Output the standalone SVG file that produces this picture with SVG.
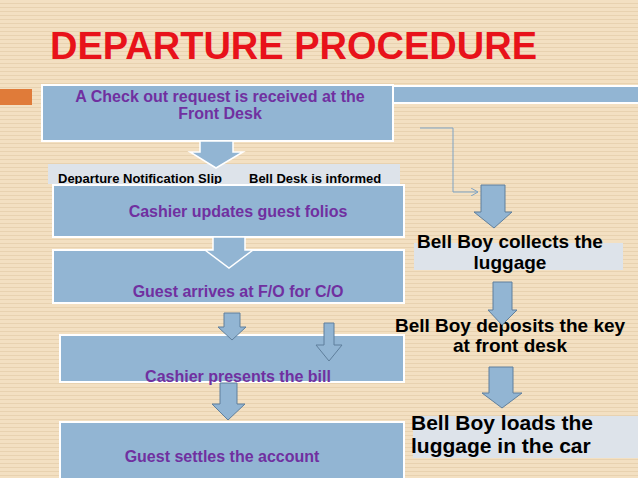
<svg xmlns="http://www.w3.org/2000/svg" width="638" height="478" viewBox="0 0 638 478">
<defs>
<pattern id="st" width="8" height="4" patternUnits="userSpaceOnUse"><rect width="8" height="4" fill="#f3e0c2"/><rect y="3" width="8" height="1" fill="#e8d2b0"/></pattern>
<marker id="ah" markerWidth="8" markerHeight="8" refX="7" refY="4" orient="auto"><path d="M0,0 L7,4 L0,8" fill="none" stroke="#7fa3c4" stroke-width="1"/></marker>
</defs>
<style>
.box{fill:#92b5d3;stroke:#fff;stroke-width:2}
.arr{fill:#92b5d3;stroke:#5f7f9c;stroke-width:1}
.warr{fill:#92b5d3;stroke:#fff;stroke-width:1.5}
.pt{font-family:"Liberation Sans",Arial,sans-serif;font-weight:bold;fill:#7030a0;font-size:16px;text-anchor:middle}
.bt{font-family:"Liberation Sans",Arial,sans-serif;font-weight:bold;fill:#000;text-anchor:middle}
.bar{fill:#dde3ea}
</style>
<rect width="638" height="478" fill="url(#st)"/>
<text x="50" y="59" font-family="Liberation Sans,Arial,sans-serif" font-weight="bold" font-size="38" fill="#e8121a">DEPARTURE PROCEDURE</text>
<rect x="0" y="89" width="32" height="16" fill="#e07b39"/>
<rect x="322" y="86" width="320" height="17" fill="#92b5d3" stroke="#fff" stroke-width="2"/>
<g id="n1"><rect x="42" y="85" width="351" height="56" class="box"/>
<text x="220" y="102" class="pt">A Check out request is received at the</text><text x="220" y="119" class="pt">Front Desk</text></g>
<g id="n2"><rect x="48" y="164" width="352" height="20" class="bar"/>
<text x="58" y="183" font-family="Liberation Sans,Arial,sans-serif" font-weight="bold" font-size="13" fill="#000">Departure Notification Slip</text>
<text x="249" y="183" font-family="Liberation Sans,Arial,sans-serif" font-weight="bold" font-size="13" fill="#000">Bell Desk is informed</text></g>
<g id="n3"><rect x="53" y="185" width="351" height="52" class="box"/><text x="238" y="217" class="pt">Cashier  updates guest folios</text></g>
<g id="n4"><rect x="53" y="250" width="351" height="53" class="box"/><text x="238" y="297" class="pt">Guest arrives at F/O for C/O</text></g>
<g id="n5"><rect x="60" y="335" width="344" height="47" class="box"/><text x="238" y="382" class="pt">Cashier presents the bill</text></g>
<g id="n6"><rect x="60" y="422" width="344" height="60" class="box"/><text x="222" y="462" class="pt">Guest settles the  account</text></g>
<g id="r1"><rect x="414" y="243" width="209" height="27" class="bar"/>
<text x="510" y="248" class="bt" font-size="19">Bell Boy collects the</text><text x="510" y="269" class="bt" font-size="19">luggage</text></g>
<g id="r2"><text x="510" y="332" class="bt" font-size="19">Bell Boy deposits the key</text><text x="510" y="352" class="bt" font-size="19">at front desk</text></g>
<g id="r3"><rect x="413" y="416" width="225" height="42" class="bar"/>
<text x="411" y="430" font-family="Liberation Sans,Arial,sans-serif" font-weight="bold" font-size="21" fill="#000">Bell Boy loads the</text>
<text x="411" y="453" font-family="Liberation Sans,Arial,sans-serif" font-weight="bold" font-size="21" fill="#000">luggage in the car</text></g>
<g id="connectors">
<path d="M200,141 V152 H190 L216,168 L243,152 H233 V141 Z" class="warr"/>
<path d="M213,237 V250 H205 L229,268 L253,250 H245 V237 Z" class="warr"/>
<path d="M224,313 V327 H218 L232,340 L246,327 H240 V313 Z" class="arr"/>
<path d="M324,323 V345 H316 L329,361 L342,345 H334 V323 Z" class="arr"/>
<path d="M220,383 V404 H212 L228,420 L245,404 H237 V383 Z" class="arr"/>
<path d="M420,128 H453 V192 H478" fill="none" stroke="#7fa3c4" stroke-width="1" marker-end="url(#ah)"/>
<path d="M481,185 V212 H474 L494,228 L512,212 H505 V185 Z" class="arr"/>
<path d="M493,282 V310 H488 L502,325 L517,310 H512 V282 Z" class="arr"/>
<path d="M489,367 V393 H482 L502,408 L522,393 H513 V367 Z" class="arr"/>
</g>
</svg>
